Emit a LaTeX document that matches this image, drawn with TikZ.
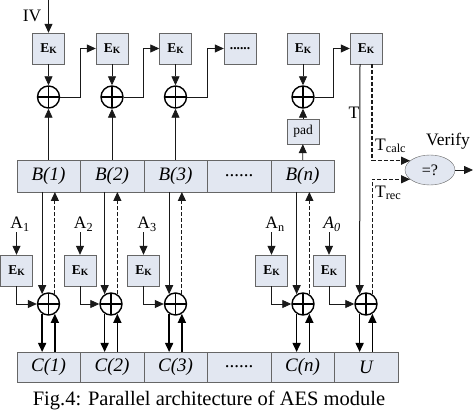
\documentclass[tikz,border=0pt]{standalone}
\usepackage{fontspec}
\setmainfont{Liberation Serif}
\usetikzlibrary{arrows.meta, shapes.geometric}

\definecolor{boxfill}{RGB}{226,231,241}
\newcommand{\ek}{E\raisebox{-1pt}{\fontsize{9.5}{9.5}\selectfont K}}

\tikzset{
	blk/.style={draw=black!60, fill=boxfill, minimum width=32pt, minimum height=31pt, inner sep=0pt, font=\fontsize{13.5}{13.5}\selectfont\bfseries},
	cell/.style={draw=black!60, fill=boxfill, minimum width=63.5pt, minimum height=32pt, inner sep=0pt, outer sep=0pt, font=\fontsize{19}{19}\selectfont\itshape},
	xor/.style={circle, draw, line width=1.4pt, minimum size=22pt, inner sep=0pt,
		path picture={\draw[line width=1.4pt] (path picture bounding box.north) -- (path picture bounding box.south)
			(path picture bounding box.west) -- (path picture bounding box.east);}},
	arr/.style={-{Triangle[length=9pt,width=8pt]}, line width=0.8pt, black!90},
	vline/.style={line width=1pt},
	bline/.style={line width=1.5pt, black},
	dline/.style={line width=1.1pt, dash pattern=on 4pt off 2pt},
	lbl/.style={font=\fontsize{17.5}{17.5}\selectfont, inner sep=1pt},
}

\begin{document}
\begin{tikzpicture}[x=1pt, y=-1pt]
	\useasboundingbox (0,0) rectangle (474,411);
	% top row of cipher blocks
	\coordinate (iv) at (48.5,0);
	\node[blk] (e1) at (48.5,48.5) {\ek};
	\node[blk] (e2) at (112,48.5) {\ek};
	\node[blk] (e3) at (175.5,48.5) {\ek};
	\node[blk] (e4) at (240,48.5) {......};
	\node[blk] (e5) at (303,48.5) {\ek};
	\node[blk] (e6) at (366,48.5) {\ek};
	\node[xor] (u1) at (48.5,97) {};
	\node[xor] (u2) at (112,97) {};
	\node[xor] (u3) at (175.5,97) {};
	\node[xor] (u5) at (303,97) {};
	\node[blk, minimum height=25pt] (pad) at (303,131.5) {\mdseries pad};
	\node[lbl] (ivl) at (32,15.5) {IV};
	\draw[arr] (iv) -- (e1);
	\draw[arr] (e1) -- (u1);
	\draw[arr] (e2) -- (u2);
	\draw[arr] (e3) -- (u3);
	\draw[arr] (e5) -- (u5);
	\draw[arr] (u1.east) -- ++(20,0) |- (e2.west);
	\draw[arr] (u2.east) -- ++(20,0) |- (e3.west);
	\draw[arr] (u3.east) -- ++(20,0) |- (e4.west);
	\draw[arr] (u5.east) -- ++(19,0) |- (e6.west);
	%
	\node[cell] (b1) at (48.5,176) {B(1)};
	\node[cell] (b2) at (112,176) {B(2)};
	\node[cell] (b3) at (175.5,176) {B(3)};
	\node[cell, font=\fontsize{19}{19}\selectfont] (b4) at (239,176) {......};
	\node[cell] (b5) at (302.5,176) {B(n)};
	\draw[arr] (b1) -- (u1);
	\draw[arr] (b2) -- (u2);
	\draw[arr] (b3) -- (u3);
	\draw[arr] (b5) -- (pad);
	\draw[arr] (pad) -- (u5);
	%
	\node[cell, minimum height=30pt] (c1) at (48.5,367) {C(1)};
	\node[cell, minimum height=30pt] (c2) at (112,367) {C(2)};
	\node[cell, minimum height=30pt] (c3) at (175.5,367) {C(3)};
	\node[cell, minimum height=30pt, font=\fontsize{19}{19}\selectfont] (c4) at (239,367) {......};
	\node[cell, minimum height=30pt] (c5) at (302.5,367) {C(n)};
	\node[cell, minimum height=30pt] (c6) at (366,367) {U};
	%
	\node[xor] (l1) at (48.5,304) {};
	\node[xor] (l2) at (111,304) {};
	\node[xor] (l3) at (175.5,304) {};
	\node[xor] (l5) at (303,304) {};
	\node[xor] (l6) at (366,304) {};
	\node[blk] (k1) at (16.5,270.5) {\ek};
	\node[blk] (k2) at (80,270.5) {\ek};
	\node[blk] (k3) at (143.5,270.5) {\ek};
	\node[blk] (k5) at (271.5,270.5) {\ek};
	\node[blk] (k6) at (329,270.5) {\ek};
	\node[lbl] (a1) at (20,224) {A\textsubscript{1}};
	\node[lbl] (a2) at (83.5,224) {A\textsubscript{2}};
	\node[lbl] (a3) at (147,224) {A\textsubscript{3}};
	\node[lbl] (a5) at (275,224) {A\textsubscript{n}};
	\node[lbl] (a6) at (332,224) {\itshape A\textsubscript{0}};
	\draw[arr] (k1.north |- a1.south) -- (k1);
	\draw[arr] (k2.north |- a2.south) -- (k2);
	\draw[arr] (k3.north |- a3.south) -- (k3);
	\draw[arr] (k5.north |- a5.south) -- (k5);
	\draw[arr] (k6.north |- a6.south) -- (k6);
	\draw[arr] (k1.south) |- (l1.west);
	\draw[arr] (k2.south) |- (l2.west);
	\draw[arr] (k3.south) |- (l3.west);
	\draw[arr] (k5.south) |- (l5.west);
	\draw[arr] (k6.south) |- (l6.west);
	%
	\draw[arr, vline] (l1.123 |- b1.south) -- (l1.123);
	\draw[arr, vline] (l2.123 |- b2.south) -- (l2.123);
	\draw[arr, vline] (l3.123 |- b3.south) -- (l3.123);
	\draw[arr, vline] (l5.123 |- b5.south) -- (l5.123);
	\draw[arr, dline] (l1.57) -- (l1.57 |- b1.south);
	\draw[arr, dline] (l2.57) -- (l2.57 |- b2.south);
	\draw[arr, dline] (l3.57) -- (l3.57 |- b3.south);
	\draw[arr, dline] (l5.57) -- (l5.57 |- b5.south);
	\draw[arr, bline] (l1.237) -- (l1.237 |- c1.north);
	\draw[arr, bline] (l2.237) -- (l2.237 |- c2.north);
	\draw[arr, bline] (l3.237) -- (l3.237 |- c3.north);
	\draw[arr, bline] (l5.237) -- (l5.237 |- c5.north);
	\draw[arr, bline] (l6.237) -- (l6.237 |- c6.north);
	\draw[arr, bline] (l1.303 |- c1.north) -- (l1.303);
	\draw[arr, bline] (l2.303 |- c2.north) -- (l2.303);
	\draw[arr, bline] (l3.303 |- c3.north) -- (l3.303);
	\draw[arr, bline] (l5.303 |- c5.north) -- (l5.303);
	\draw[arr, bline] (l6.303 |- c6.north) -- (l6.303);
	% tag check
	\node[ellipse, draw=black!60, fill=boxfill, minimum width=50pt, minimum height=30pt, inner sep=0pt, font=\fontsize{16}{16}\selectfont] (ve) at (430,170) {=?};
	\coordinate (out) at (473,170);
	\draw[arr, vline] ([xshift=-6pt]e6.south) -- (l6.123);
	\draw[arr, dline] ([xshift=6pt]e6.south) |- (ve.155);
	\draw[arr, dline] (l6.57) |- (ve.205);
	\draw[arr] (ve) -- (out);
	\node[lbl] (tl) at (354,113) {T};
	\node[lbl, anchor=west] (tc) at (374,146) {T\textsubscript{calc}};
	\node[lbl, anchor=west] (tr) at (374,193) {T\textsubscript{rec}};
	\node[lbl] (vy) at (448,141) {Verify};
	%
	\node[font=\fontsize{20.5}{20.5}\selectfont, anchor=base] (cap) at (209,406) {Fig.4: Parallel architecture of AES module};
\end{tikzpicture}
\end{document}
